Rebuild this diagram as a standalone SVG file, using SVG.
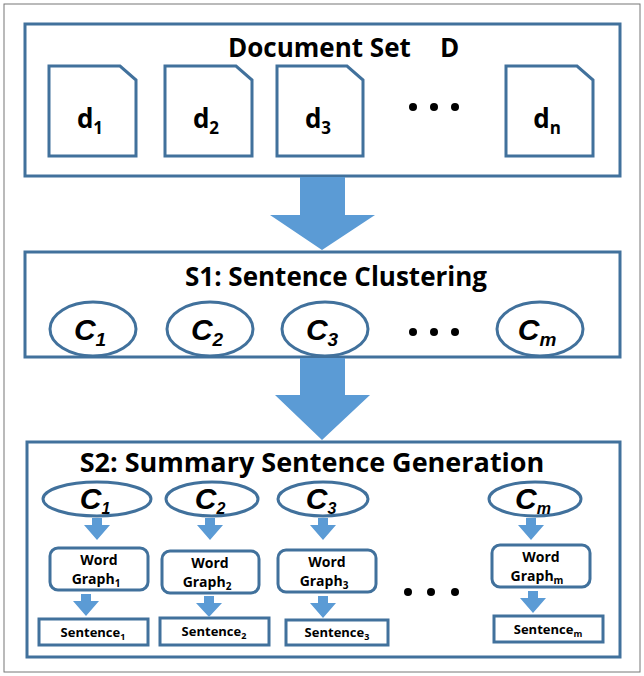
<svg xmlns="http://www.w3.org/2000/svg" width="644" height="676" viewBox="0 0 644 676">
<defs><style>
.box{fill:#fff;stroke:#41719c;stroke-width:3}
.t{font-family:"Open Sans","Liberation Sans",sans-serif;font-weight:bold;fill:#000}
.c{font-family:"Liberation Sans",sans-serif;font-weight:bold;font-style:italic;font-size:30px;text-anchor:middle}
.arr{fill:#5b9bd5}
</style></defs>
<rect x="4" y="4" width="636" height="668" fill="#fff" stroke="#777" stroke-width="1"/>
<g id="docset">
<rect class="box" x="25" y="24" width="595" height="152"/>
<text class="t" x="228" y="57" font-size="26">Document Set</text>
<text class="t" x="440" y="57" font-size="26">D</text>
</g>
<g id="d1"><path class="box" d="M49,66 H120 L136,80 V156 H49 Z"/><text class="t" x="90" y="128" font-size="26" text-anchor="middle">d<tspan font-size="17" dy="6">1</tspan></text></g>
<g id="d2"><path class="box" d="M165,66 H236 L252,80 V156 H165 Z"/><text class="t" x="206" y="128" font-size="26" text-anchor="middle">d<tspan font-size="17" dy="6">2</tspan></text></g>
<g id="d3"><path class="box" d="M277,66 H347 L363,80 V156 H277 Z"/><text class="t" x="318" y="128" font-size="26" text-anchor="middle">d<tspan font-size="17" dy="6">3</tspan></text></g>
<g id="dots1"><circle cx="413" cy="107" r="4"/><circle cx="434" cy="107" r="4"/><circle cx="455" cy="107" r="4"/></g>
<g id="dn"><path class="box" d="M506,66 H577 L593,80 V156 H506 Z"/><text class="t" x="547" y="128" font-size="26" text-anchor="middle">d<tspan font-size="17" dy="6">n</tspan></text></g>
<g id="s1">
<rect class="box" x="25" y="252" width="595" height="105"/>
<text class="t" x="336" y="286" font-size="26" text-anchor="middle">S1: Sentence Clustering</text>
<ellipse class="box" cx="93" cy="329" rx="43" ry="27"/><text class="c" x="90" y="340">C<tspan font-size="19" dy="6">1</tspan></text>
<ellipse class="box" cx="210" cy="329" rx="43" ry="27"/><text class="c" x="207" y="340">C<tspan font-size="19" dy="6">2</tspan></text>
<ellipse class="box" cx="325" cy="329" rx="43" ry="27"/><text class="c" x="322" y="340">C<tspan font-size="19" dy="6">3</tspan></text>
<circle cx="413" cy="332" r="4"/><circle cx="434" cy="332" r="4"/><circle cx="455" cy="332" r="4"/>
<ellipse class="box" cx="540" cy="329" rx="43" ry="27"/><text class="c" x="537" y="340">C<tspan font-size="19" dy="6">m</tspan></text>
</g>
<g id="s2">
<rect class="box" x="27" y="442" width="593" height="215"/>
<text class="t" x="312" y="472" font-size="27" text-anchor="middle">S2: Summary Sentence Generation</text>
<ellipse class="box" cx="97" cy="499" rx="54" ry="17"/><text class="c" x="95" y="509" font-size="24">C<tspan font-size="16" dy="5">1</tspan></text>
<ellipse class="box" cx="212" cy="499" rx="46" ry="17"/><text class="c" x="210" y="509" font-size="24">C<tspan font-size="16" dy="5">2</tspan></text>
<ellipse class="box" cx="323" cy="499" rx="45" ry="17"/><text class="c" x="321" y="509" font-size="24">C<tspan font-size="16" dy="5">3</tspan></text>
<ellipse class="box" cx="535" cy="499" rx="46" ry="17"/><text class="c" x="533" y="509" font-size="24">C<tspan font-size="16" dy="5">m</tspan></text>
</g>
<g id="wg1"><rect class="box" x="50" y="548" width="98" height="42" rx="8" stroke-width="2.5"/><text class="t" font-size="14" text-anchor="middle"><tspan x="99" y="565">Word</tspan><tspan x="96" y="584">Graph<tspan font-size="10" dy="3">1</tspan></tspan></text></g>
<g id="wg2"><rect class="box" x="162" y="551" width="97" height="42" rx="8" stroke-width="2.5"/><text class="t" font-size="14" text-anchor="middle"><tspan x="210" y="568">Word</tspan><tspan x="207" y="587">Graph<tspan font-size="10" dy="3">2</tspan></tspan></text></g>
<g id="wg3"><rect class="box" x="278" y="550" width="98" height="42" rx="8" stroke-width="2.5"/><text class="t" font-size="14" text-anchor="middle"><tspan x="327" y="567">Word</tspan><tspan x="324" y="586">Graph<tspan font-size="10" dy="3">3</tspan></tspan></text></g>
<g id="dots3"><circle cx="408" cy="592" r="4"/><circle cx="431" cy="592" r="4"/><circle cx="455" cy="592" r="4"/></g>
<g id="wgm"><rect class="box" x="492" y="545" width="98" height="42" rx="8" stroke-width="2.5"/><text class="t" font-size="14" text-anchor="middle"><tspan x="541" y="562">Word</tspan><tspan x="537" y="581">Graph<tspan font-size="10" dy="3">m</tspan></tspan></text></g>
<g id="sen1"><rect class="box" x="39" y="619" width="109" height="26" stroke-width="2.5"/><text class="t" x="93" y="637" font-size="13" text-anchor="middle">Sentence<tspan font-size="9" dy="3">1</tspan></text></g>
<g id="sen2"><rect class="box" x="160" y="618" width="109" height="27" stroke-width="2.5"/><text class="t" x="214" y="636" font-size="13" text-anchor="middle">Sentence<tspan font-size="9" dy="3">2</tspan></text></g>
<g id="sen3"><rect class="box" x="286" y="620" width="102" height="25" stroke-width="2.5"/><text class="t" x="337" y="637" font-size="13" text-anchor="middle">Sentence<tspan font-size="9" dy="3">3</tspan></text></g>
<g id="senm"><rect class="box" x="494" y="616" width="109" height="26" stroke-width="2.5"/><text class="t" x="548" y="634" font-size="13" text-anchor="middle">Sentence<tspan font-size="9" dy="3">m</tspan></text></g>
<g id="connectors" class="arr">
<polygon points="300,177 345,177 345,215 375,215 322,250 270,215 300,215"/>
<polygon points="300,358 345,358 345,395 370,395 322,440 275,395 300,395"/>
<polygon points="92,518 102,518 102,525 110,525 97,540 84,525 92,525"/>
<polygon points="205,518 215,518 215,525 223,525 210,540 197,525 205,525"/>
<polygon points="318,518 328,518 328,525 336,525 323,540 310,525 318,525"/>
<polygon points="526,518 536,518 536,525 544,525 531,540 518,525 526,525"/>
<polygon points="81,594 91,594 91,601 99,601 86,616 73,601 81,601"/>
<polygon points="204,596 214,596 214,603 222,603 209,617 196,603 204,603"/>
<polygon points="318,596 328,596 328,603 336,603 323,618 310,603 318,603"/>
<polygon points="528,591 538,591 538,598 546,598 533,613 520,598 528,598"/>
</g>
</svg>
